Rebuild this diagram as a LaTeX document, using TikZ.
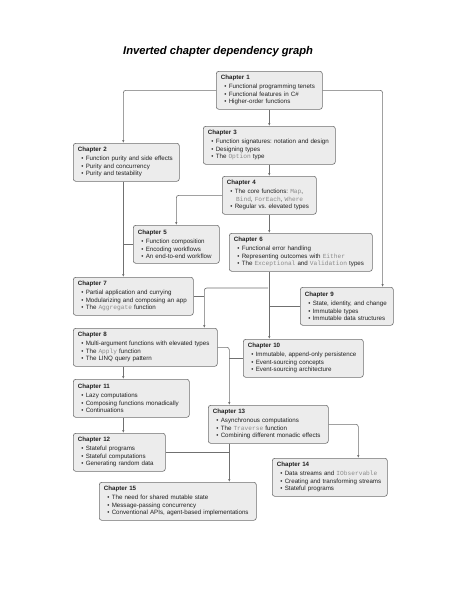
\documentclass[tikz,border=0pt]{standalone}
\usepackage{fontspec}
\setmainfont{Liberation Sans}
\newfontfamily\codefont{Liberation Mono}
\usetikzlibrary{arrows.meta}
\frenchspacing
\definecolor{boxfill}{HTML}{ECECEC}
\definecolor{boxline}{HTML}{6E6E6E}
\definecolor{wire}{HTML}{707070}
\definecolor{codegray}{HTML}{8A8A8A}
\definecolor{txt}{HTML}{222222}
\newcommand{\cod}[1]{{\codefont\color{codegray}#1}}
\newcommand{\itm}[1]{\\\mbox{\hspace*{3.6pt}•\hspace{2.2pt}#1}}
\newcommand{\hd}[2]{\mbox{\textbf{#1}}\\[1.6pt]\mbox{\hspace*{3.6pt}•\hspace{2.2pt}#2}}
\begin{document}
\begin{tikzpicture}[x=1pt,y=-1pt,
  chap/.style={draw=boxline, fill=boxfill, rounded corners=2.5pt, line width=0.6pt,
    anchor=north west, align=left, inner xsep=4.5pt, inner ysep=0pt,
    minimum height=38pt, text=txt, font=\fontsize{6.2}{7.5}\selectfont\frenchspacing},
  wireline/.style={draw=wire, line width=0.6pt, rounded corners=2.5pt},
  arr/.style={wireline, -{Latex[length=3pt,width=2.4pt]}}]
\useasboundingbox[fill=white] (0,0) rectangle (474,594);
\node[anchor=base west, font=\fontsize{11.2}{13}\selectfont\bfseries\itshape, inner sep=0pt] (title) at (123,55) {Inverted chapter dependency graph};

\node[chap, text width=97pt] (c1) at (216,71) {\hd{Chapter 1}{Functional programming tenets}\itm{Functional features in C\#}\itm{Higher-order functions}};
\node[chap, text width=123pt] (c3) at (203,126) {\hd{Chapter 3}{Function signatures: notation and design}\itm{Designing types}\itm{The \cod{Option} type}};
\node[chap, text width=97pt] (c2) at (73,143) {\hd{Chapter 2}{Function purity and side effects}\itm{Purity and concurrency}\itm{Purity and testability}};
\node[chap, text width=85pt] (c4) at (222,176) {\hd{Chapter 4}{The core functions: \cod{Map},}\\\mbox{\hspace*{9.3pt}\cod{Bind}, \cod{ForEach}, \cod{Where}}\itm{Regular vs. elevated types}};
\node[chap, text width=77pt] (c5) at (133,225) {\hd{Chapter 5}{Function composition}\itm{Encoding workflows}\itm{An end-to-end workflow}};
\node[chap, text width=134pt] (c6) at (229,233) {\hd{Chapter 6}{Functional error handling}\itm{Representing outcomes with \cod{Either}}\itm{The \cod{Exceptional} and \cod{Validation} types}};
\node[chap, text width=111pt] (c7) at (73,277) {\hd{Chapter 7}{Partial application and currying}\itm{Modularizing and composing an app}\itm{The \cod{Aggregate} function}};
\node[chap, text width=84pt] (c9) at (300,287) {\hd{Chapter 9}{State, identity, and change}\itm{Immutable types}\itm{Immutable data structures}};
\node[chap, text width=135pt] (c8) at (73,328) {\hd{Chapter 8}{Multi-argument functions with elevated types}\itm{The \cod{Apply} function}\itm{The LINQ query pattern}};
\node[chap, text width=111pt] (c10) at (243,339) {\hd{Chapter 10}{Immutable, append-only persistence}\itm{Event-sourcing concepts}\itm{Event-sourcing architecture}};
\node[chap, text width=107pt] (c11) at (73,379) {\hd{Chapter 11}{Lazy computations}\itm{Composing functions monadically}\itm{Continuations}};
\node[chap, text width=111pt] (c13) at (208,405) {\hd{Chapter 13}{Asynchronous computations}\itm{The \cod{Traverse} function}\itm{Combining different monadic effects}};
\node[chap, text width=83pt] (c12) at (73,433) {\hd{Chapter 12}{Stateful programs}\itm{Stateful computations}\itm{Generating random data}};
\node[chap, text width=106pt] (c14) at (272,458) {\hd{Chapter 14}{Data streams and \cod{IObservable}}\itm{Creating and transforming streams}\itm{Stateful programs}};
\node[chap, text width=148pt] (c15) at (99,482) {\hd{Chapter 15}{The need for shared mutable state}\itm{Message-passing concurrency}\itm{Conventional APIs, agent-based implementations}};

% junction coordinate
\coordinate (j6) at (268,288);

% Chapter 1 out
\draw[arr] (c1.west) -| ([xshift=-3pt]c2.north);
\draw[arr] (c1.east) -| ([xshift=-11pt]c9.north east);
\draw[arr] (c1.south) -- (c3.north);
\draw[arr] (c3.south) -- (c4.north);
% Chapter 4 out
\draw[arr] (c4.west) -| (c5.north);
\draw[arr] (c4.south) -- (c4.south |- c6.north);
% Chapter 2, 5 -> 7
\draw[arr] ([xshift=-3pt]c2.south) -- ([xshift=-3pt]c2.south |- c7.north);
\draw[wireline] (c5.west) -- ([xshift=-3pt]c2.south |- c5.west);
% Chapter 6 -> 10, 8 ; 9 -> 10 ; 7 -> 8
\draw[arr] (c4.south |- c6.south) -- (c4.south |- c10.north);
\draw[arr] (j6) -| ([xshift=59pt]c8.north);
\draw[wireline] (c7.east) -- ([xshift=59pt]c8.north |- c7.east);
\draw[wireline] (c9.west) -- (c4.south |- c9.west);
% Chapter 8 -> 11, 13 ; 10 -> 13
\draw[arr] ([xshift=-22pt]c8.south) -- ([xshift=-22pt]c8.south |- c11.north);
\draw[arr] (c8.east) -| ([xshift=-39pt]c13.north);
\draw[wireline] (c10.west) -- ([xshift=-39pt]c13.north |- c10.west);
% Chapter 11 -> 12
\draw[arr] ([xshift=-8pt]c11.south) -- ([xshift=-8pt]c11.south |- c12.north);
% Chapter 13 -> 15, 14 ; 12 -> 15
\draw[arr] ([xshift=-39pt]c13.south) -- ([xshift=-39pt]c13.south |- c15.north);
\draw[wireline] (c12.east) -- ([xshift=-39pt]c13.south |- c12.east);
\draw[arr] (c13.east) -| ([xshift=28.5pt]c14.north);
\end{tikzpicture}
\end{document}
